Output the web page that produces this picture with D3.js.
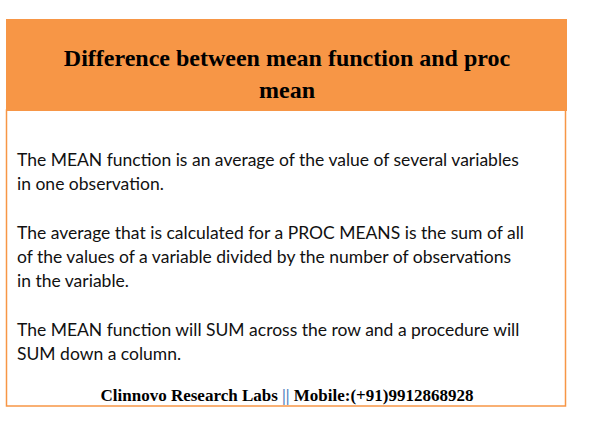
<!DOCTYPE html><html><head><meta charset="utf-8"><script src="https://cdn.jsdelivr.net/npm/d3@7"></script>
<style>body{margin:0;background:#fff}</style></head><body><svg id="c" width="601" height="441"></svg>
<script>
const titleLines=["Difference between mean function and proc","mean"];
const bodyLines=[
 ["The MEAN function is an average of the value of several variables",160],
 ["in one observation.",184],
 ["The average that is calculated for a PROC MEANS is the sum of all",233],
 ["of the values of a variable divided by the number of observations",257],
 ["in the variable.",281],
 ["The MEAN function will SUM across the row and a procedure will",330],
 ["SUM down a column.",354]];
const footer=["Clinnovo Research Labs ","||"," Mobile:(+91)9912868928"];
const svg=d3.select("#c");
svg.append("rect").attr("x",6.5).attr("y",110).attr("width",559).attr("height",296).attr("fill","#fff").attr("stroke","#f79646").attr("stroke-width",1.5);
svg.append("rect").attr("x",6).attr("y",19).attr("width",561).attr("height",92).attr("fill","#f79646");
svg.selectAll(".t").data(titleLines).join("text").attr("x",287).attr("y",(d,i)=>66+i*32)
 .attr("text-anchor","middle").attr("font-family","Liberation Serif").attr("font-weight","bold").attr("font-size",24).text(d=>d);
svg.selectAll(".b").data(bodyLines).join("text").attr("x",17).attr("y",d=>d[1]+6)
 .attr("font-family","Lato, Open Sans").attr("font-size",17.5).attr("fill","#111").text(d=>d[0]);
const f=svg.append("text").attr("x",287).attr("y",401).attr("text-anchor","middle").attr("font-family","Liberation Serif").attr("font-weight","bold").attr("font-size",17);
f.selectAll("tspan").data(footer).join("tspan").attr("fill",(d,i)=>i==1?"#4f81bd":"#000").text(d=>d);
</script></body></html>
